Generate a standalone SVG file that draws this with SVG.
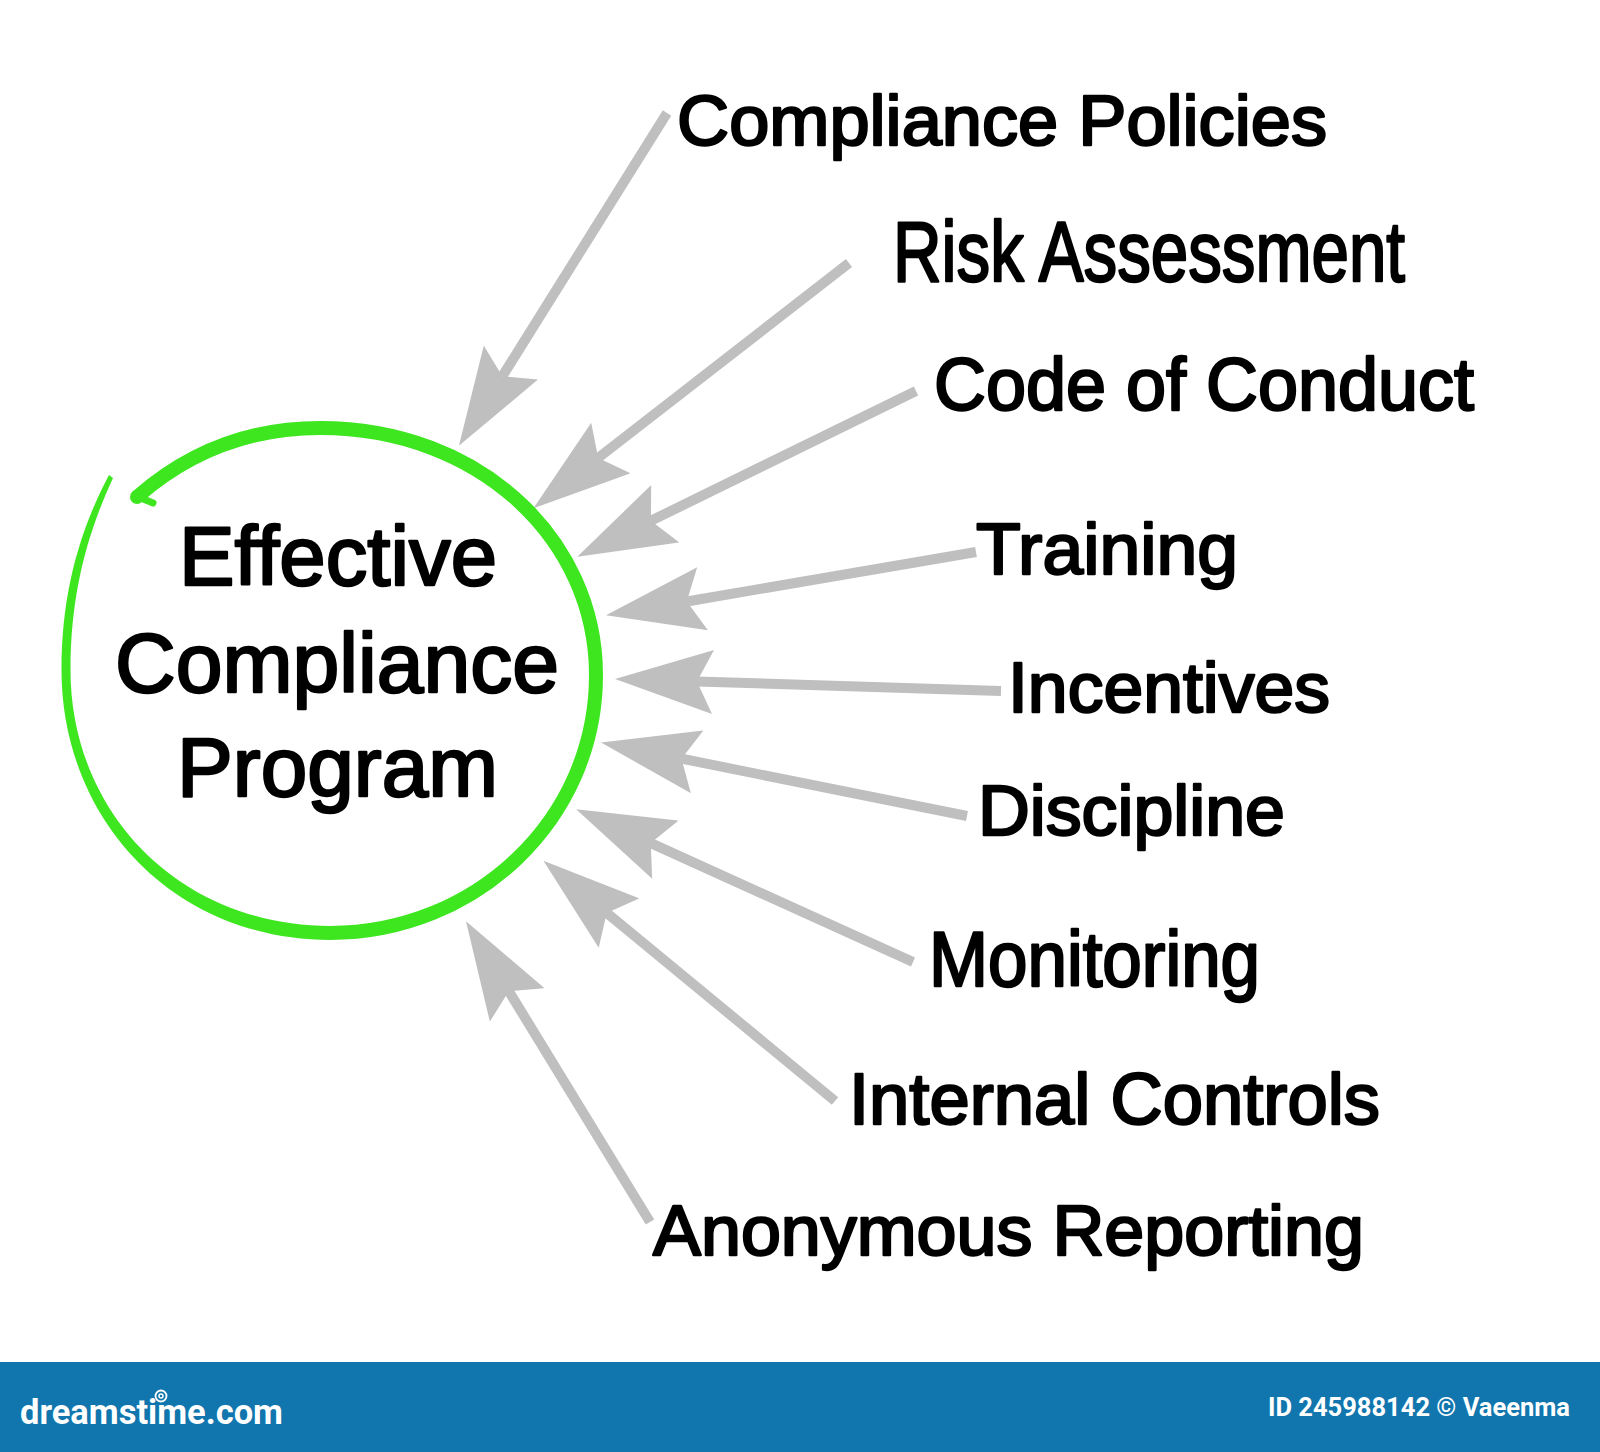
<svg xmlns="http://www.w3.org/2000/svg" width="1600" height="1452" viewBox="0 0 1600 1452">
<style>
.lbl{font-family:"Liberation Sans",Arial,sans-serif;fill:#000;stroke:#000;stroke-width:2.4;stroke-linejoin:round}
.shaft{stroke:#bfbfbf;stroke-width:10;fill:none;stroke-linecap:butt;marker-end:url(#head)}
.ring{fill:none;stroke:#3de61f;stroke-linejoin:round}
.ringfill{fill:#3de61f;stroke:none}
.foot{font-family:Roboto,"Liberation Sans",sans-serif;fill:#fff}
</style>
<defs>
<marker id="head" viewBox="0 0 98 64" refX="16" refY="32" markerWidth="98" markerHeight="64" markerUnits="userSpaceOnUse" orient="auto">
<path d="M0,0 L98,32 L0,64 L16,32 Z" fill="#bfbfbf"/>
</marker>
</defs>
<rect width="1600" height="1452" fill="#fff"/>

<g id="connectors">
<line class="shaft" x1="667" y1="113" x2="502.4" y2="376.2"/>
<line class="shaft" x1="849" y1="263" x2="598.2" y2="457.9"/>
<line class="shaft" x1="916" y1="391" x2="650.9" y2="520.8"/>
<line class="shaft" x1="976" y1="552" x2="686.8" y2="601.5"/>
<line class="shaft" x1="1001" y1="691" x2="697" y2="681.5"/>
<line class="shaft" x1="967" y1="816" x2="681.5" y2="758.7"/>
<line class="shaft" x1="913" y1="962" x2="650.8" y2="843.1"/>
<line class="shaft" x1="835" y1="1101" x2="606.7" y2="912.9"/>
<line class="shaft" x1="650" y1="1222" x2="508.8" y2="991.2"/>
</g>

<g id="center">
<path class="ring" stroke-width="14" d="M137,497 C185,455 245,428 320,428 C480,428 596,540 596,675 C596,820 475,933 330,933"/>
<path class="ringfill" d="M331,940 C171,940 61.5,817 61.5,670 C61.5,588 82,526 109,475 L113,478 C88,532 70.5,592 70.5,670 C70.5,812 179,926 331,926 Z"/>
<circle cx="137" cy="497" r="7" fill="#3de61f"/>
<path class="ring" stroke-width="7" stroke-linecap="round" d="M136,496 L153,503"/>
<text class="lbl" x="179" y="585" font-size="84" textLength="318" lengthAdjust="spacingAndGlyphs">Effective</text>
<text class="lbl" x="115" y="692" font-size="84" textLength="444" lengthAdjust="spacingAndGlyphs">Compliance</text>
<text class="lbl" x="177" y="796" font-size="84" textLength="321" lengthAdjust="spacingAndGlyphs">Program</text>
</g>

<g id="n1"><text class="lbl" x="677" y="145" font-size="71" textLength="650" lengthAdjust="spacingAndGlyphs">Compliance Policies</text></g>
<g id="n2"><text class="lbl" x="893" y="281" font-size="86" textLength="512" lengthAdjust="spacingAndGlyphs">Risk Assessment</text></g>
<g id="n3"><text class="lbl" x="934" y="410" font-size="74" textLength="540" lengthAdjust="spacingAndGlyphs">Code of Conduct</text></g>
<g id="n4"><text class="lbl" x="976" y="574" font-size="73" textLength="262" lengthAdjust="spacingAndGlyphs">Training</text></g>
<g id="n5"><text class="lbl" x="1008" y="712" font-size="71" textLength="322" lengthAdjust="spacingAndGlyphs">Incentives</text></g>
<g id="n6"><text class="lbl" x="978" y="835" font-size="71" textLength="307" lengthAdjust="spacingAndGlyphs">Discipline</text></g>
<g id="n7"><text class="lbl" x="929" y="986" font-size="77" textLength="331" lengthAdjust="spacingAndGlyphs">Monitoring</text></g>
<g id="n8"><text class="lbl" x="849" y="1124" font-size="73" textLength="531" lengthAdjust="spacingAndGlyphs">Internal Controls</text></g>
<g id="n9"><text class="lbl" x="653" y="1255" font-size="71" textLength="711" lengthAdjust="spacingAndGlyphs">Anonymous Reporting</text></g>

<g id="footer">
<rect x="0" y="1362" width="1600" height="90" fill="#1176ae"/>
<text class="foot" x="20" y="1424" font-size="35" font-weight="bold" textLength="263" lengthAdjust="spacingAndGlyphs" font-family="Lato,sans-serif">dreamstime.com</text>
<circle cx="161" cy="1396" r="5.5" fill="none" stroke="#fff" stroke-width="1.8"/>
<circle cx="161" cy="1396" r="2" fill="none" stroke="#fff" stroke-width="1.5"/>
<text class="foot" x="1268" y="1416" font-size="25" font-weight="bold" textLength="302" lengthAdjust="spacingAndGlyphs">ID 245988142 © Vaeenma</text>
</g>
</svg>
